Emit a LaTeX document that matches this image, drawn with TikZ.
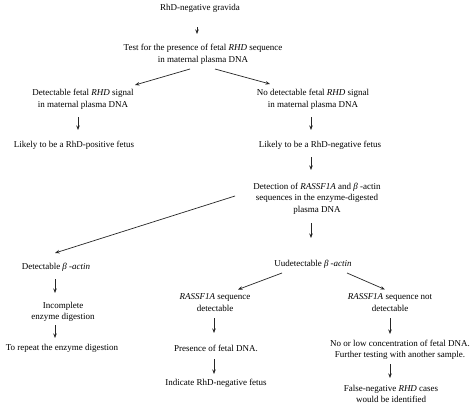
\documentclass[tikz,border=0pt]{standalone}
\usepackage{fontspec}
\setmainfont{Liberation Serif}
\usetikzlibrary{arrows.meta}
\begin{document}
\begin{tikzpicture}[x=1pt,y=-1pt,
  txt/.style={inner sep=0pt,align=center,font=\fontsize{9}{11.5}\selectfont,text=black},
  arr/.style={draw=black!85,line width=0.7pt,-{Stealth[length=4.5pt,width=3.5pt]}}]
\useasboundingbox[fill=white] (0,0) rectangle (474,405);
\node[txt] (n1) at (200,8) {RhD-negative gravida};
\node[txt] (n2) at (203,54.5) {Test for the presence of fetal \textit{RHD} sequence\\in maternal plasma DNA};
\node[txt] (n3L) at (83,99.5) {Detectable fetal \textit{RHD} signal\\in maternal plasma DNA};
\node[txt] (n3R) at (313,99.5) {No detectable fetal \textit{RHD} signal\\in maternal plasma DNA};
\node[txt] (n4L) at (74,145) {Likely to be a RhD-positive fetus};
\node[txt] (n4R) at (320,145) {Likely to be a RhD-negative fetus};
\node[txt] (n5) at (317,198.5) {Detection of \textit{RASSF1A} and \textit{β} -actin\\sequences in the enzyme-digested\\plasma DNA};
\node[txt] (n6L) at (56,267) {Detectable \textit{β -actin}};
\node[txt] (n6R) at (313,264) {Uudetectable \textit{β -actin}};
\node[txt] (n7L) at (63,312) {Incomplete\\enzyme digestion};
\node[txt] (n8L) at (62,348) {To repeat the enzyme digestion};
\node[txt] (n7M) at (215,302.5) {\textit{RASSF1A} sequence\\detectable};
\node[txt] (n8M) at (216,348) {Presence of fetal DNA.};
\node[txt] (n9M) at (216,383) {Indicate RhD-negative fetus};
\node[txt] (n7R) at (390,302.5) {\textit{RASSF1A} sequence not\\detectable};
\node[txt] (n8R) at (400,350) {No or low concentration of fetal DNA.\\Further testing with another sample.};
\node[txt] (n9R) at (391,394) {False-negative \textit{RHD} cases\\would be identified};

\draw[arr] ([shift={(-3,19)}]n1.center) -- ([shift={(-6,-20.5)}]n2.center);
\draw[arr] ([shift={(-13,14.5)}]n2.center) -- ([shift={(52,-14.5)}]n3L.center);
\draw[arr] ([shift={(12,14.5)}]n2.center) -- ([shift={(-43,-15.5)}]n3R.center);
\draw[arr] ([shift={(-5,17.5)}]n3L.center) -- ([shift={(4,-15)}]n4L.center);
\draw[arr] ([shift={(-2,17.5)}]n3R.center) -- ([shift={(-9,-15)}]n4R.center);
\draw[arr] ([shift={(-9,12)}]n4R.center) -- ([shift={(-6,-28.5)}]n5.center);
\draw[arr] ([shift={(-82,-2.5)}]n5.center) -- ([shift={(-1,-14)}]n6L.center);
\draw[arr] ([shift={(-6,24.5)}]n5.center) -- ([shift={(-2,-26)}]n6R.center);
\draw[arr] ([shift={(-1,12)}]n6L.center) -- ([shift={(-8,-19)}]n7L.center);
\draw[arr] ([shift={(-8,13)}]n7L.center) -- ([shift={(-7,-10)}]n8L.center);
\draw[arr] ([shift={(-31,9)}]n6R.center) -- ([shift={(23,-13)}]n7M.center);
\draw[arr] ([shift={(34,9)}]n6R.center) -- ([shift={(-5,-13)}]n7R.center);
\draw[arr] ([shift={(-1,15.5)}]n7M.center) -- ([shift={(-2,-15)}]n8M.center);
\draw[arr] ([shift={(-2,11)}]n8M.center) -- ([shift={(-2,-9)}]n9M.center);
\draw[arr] ([shift={(0,15.5)}]n7R.center) -- ([shift={(-10,-16)}]n8R.center);
\draw[arr] ([shift={(-10,14)}]n8R.center) -- ([shift={(-1,-16)}]n9R.center);
\end{tikzpicture}
\end{document}
